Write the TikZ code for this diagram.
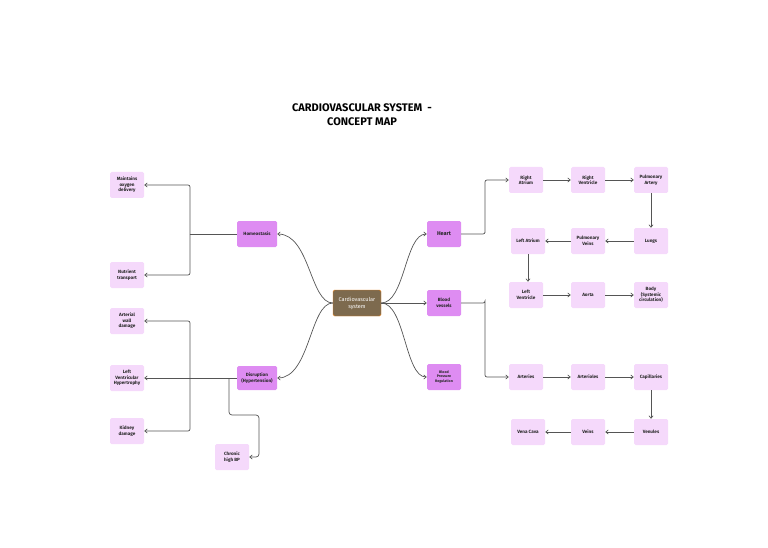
\documentclass[tikz,border=0pt]{standalone}
\usepackage{fontspec}
\setmainfont{Fira Sans}
\usetikzlibrary{arrows.meta}
\definecolor{leaf}{HTML}{F5D9FB}
\definecolor{mid}{HTML}{DE8CF2}
\definecolor{core}{HTML}{7D6A4E}
\definecolor{ln}{HTML}{555555}
\begin{document}
\begin{tikzpicture}[x=1pt,y=-1pt,
 box/.style={rectangle,rounded corners=1.5pt,minimum width=34pt,minimum height=26pt,align=center,font=\fontsize{4.6}{5.6}\selectfont\bfseries,inner sep=1pt},
 lf/.style={box,fill=leaf,text=black!85},
 md/.style={box,fill=mid,text=black!85,minimum width=40pt},
 ar/.style={draw=ln,line width=0.7pt,-{Straight Barb[length=2.5pt,width=4pt]}},
 ln/.style={draw=ln,line width=0.7pt,rounded corners=2pt}]
\useasboundingbox (0,0) rectangle (768,548);
\node[font=\fontsize{11}{14}\selectfont\bfseries,align=center] (title) at (362,115) {CARDIOVASCULAR SYSTEM\ \ -\\CONCEPT MAP};
\node[box,fill=core,draw=orange!60!brown,text=white,minimum width=48pt,font=\fontsize{5.5}{7}\selectfont] (cv) at (357,303) {Cardiovascular\\system};
\node[md] (ho) at (257,234) {Homeostasis};
\node[md,minimum height=24pt] (di) at (257,378) {Disruption\\(Hypertension)};
\node[md,minimum width=34pt,font=\fontsize{5.5}{7}\selectfont\bfseries] (he) at (444,234) {Heart};
\node[md,minimum width=34pt] (bv) at (444,303) {Blood\\vessels};
\node[md,minimum width=34pt,font=\fontsize{3.6}{4.4}\selectfont\bfseries] (bp) at (444,377) {Blood\\Pressure\\Regulation};
\node[lf] (mo) at (127,185) {Maintains\\oxygen\\delivery};
\node[lf] (nt) at (127,275) {Nutrient\\transport};
\node[lf] (aw) at (127,321) {Arterial\\wall\\damage};
\node[lf] (lv) at (127,378) {Left\\Ventricular\\Hypertrophy};
\node[lf] (kd) at (127,431) {Kidney\\damage};
\node[lf] (ch) at (232,457) {Chronic\\high BP};
\node[lf] (ra) at (526,180) {Right\\Atrium};
\node[lf] (rv) at (588,180) {Right\\Ventricle};
\node[lf] (pa) at (651,180) {Pulmonary\\Artery};
\node[lf] (la) at (528,241) {Left Atrium};
\node[lf] (pv) at (588,241) {Pulmonary\\Veins};
\node[lf] (lu) at (651,241) {Lungs};
\node[lf] (lve) at (526,295) {Left\\Ventricle};
\node[lf] (ao) at (588,295) {Aorta};
\node[lf] (bo) at (651,295) {Body\\(Systemic\\circulation)};
\node[lf] (at) at (526,377) {Arteries};
\node[lf] (al) at (588,377) {Arterioles};
\node[lf] (ca) at (651,377) {Capillaries};
\node[lf] (vc) at (528,432) {Vena Cava};
\node[lf] (ve) at (588,432) {Veins};
\node[lf] (vn) at (651,432) {Venules};
% center curves
\draw[ar] (cv.west) .. controls (310,303) and (310,234) .. (ho.east);
\draw[ar] (cv.west) .. controls (310,303) and (310,378) .. (di.east);
\draw[ar] (cv.east) .. controls (405,303) and (405,234) .. (he.west);
\draw[ar] (cv.east) -- (bv.west);
\draw[ar] (cv.east) .. controls (405,303) and (405,377) .. (bp.west);
% left trees
\coordinate (hj) at (190,234);
\draw[ln] (ho.west) -- (hj);
\draw[ar,rounded corners=2pt] (hj) |- (mo.east);
\draw[ar,rounded corners=2pt] (hj) |- (nt.east);
\coordinate (dj) at (190,378);
\draw[ar] (di.west) -- (lv.east);
\draw[ar,rounded corners=2pt] (dj) |- (aw.east);
\draw[ar,rounded corners=2pt] (dj) |- (kd.east);
\coordinate (dc) at (229,378);
\coordinate (dc2) at (259,415);
\draw[ar,rounded corners=3pt] (dc) |- (dc2) |- (ch.east);
% right chains
\coordinate (hx) at (485,234);
\draw[ar,rounded corners=2pt] (he.east) -| (hx) |- (ra.west);
\coordinate (bx) at (485,303);
\draw[ar,rounded corners=2pt] (bv.east) -| (bx) |- (at.west);
\draw[ar] (ra) -- (rv);
\draw[ar] (rv) -- (pa);
\draw[ar] (pa) -- (lu);
\draw[ar] (lu) -- (pv);
\draw[ar] (pv) -- (la);
\draw[ar] (la) -- (la|-lve.north);
\draw[ar] (lve) -- (ao);
\draw[ar] (ao) -- (bo);
\draw[ar] (at) -- (al);
\draw[ar] (al) -- (ca);
\draw[ar] (ca) -- (vn);
\draw[ar] (vn) -- (ve);
\draw[ar] (ve) -- (vc);
\end{tikzpicture}
\end{document}
